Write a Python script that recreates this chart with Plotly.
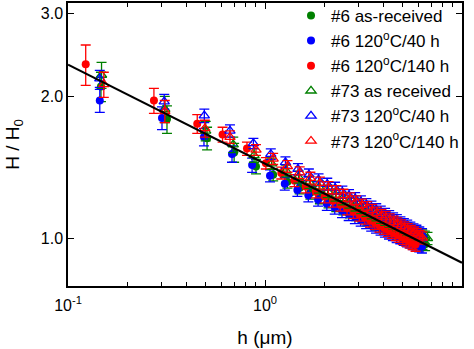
import plotly.graph_objects as go

# Indentation depth h (um), normalised hardness H/H0 and its error, per specimen
h_6_asrec = [0.147, 0.318, 0.508, 0.697, 0.900, 1.10, 1.30, 1.50, 1.70, 1.90, 2.10, 2.30, 2.50, 2.70,
             2.90, 3.10, 3.30, 3.50, 3.70, 3.90, 4.10, 4.30, 4.50, 4.70, 4.90, 5.10, 5.30, 5.50, 5.70,
             5.90, 6.10, 6.30, 6.50]
H_6_asrec = [2.10, 1.79, 1.63, 1.52, 1.42, 1.364, 1.318, 1.281, 1.250, 1.222, 1.198, 1.177, 1.158,
             1.141, 1.126, 1.112, 1.098, 1.086, 1.075, 1.065, 1.055, 1.045, 1.037, 1.029, 1.021,
             1.014, 1.007, 1.001, 0.994, 0.988, 0.983, 0.977, 0.972]
e_6_asrec = [0.15, 0.12, 0.09, 0.07, 0.05, 0.040, 0.040, 0.039, 0.039, 0.038, 0.038, 0.037, 0.037,
             0.036, 0.036, 0.035, 0.035, 0.035, 0.034, 0.034, 0.034, 0.033, 0.033, 0.033, 0.032,
             0.032, 0.032, 0.031, 0.031, 0.031, 0.030, 0.030, 0.030]

h_6_40h = [0.145, 0.300, 0.490, 0.680, 0.860, 1.06, 1.26, 1.46, 1.66, 1.86, 2.06, 2.26, 2.46, 2.66,
           2.86, 3.06, 3.26, 3.46, 3.66, 3.86, 4.06, 4.26, 4.46, 4.66, 4.86, 5.06, 5.26, 5.46, 5.66,
           5.86, 6.06, 6.26]
H_6_40h = [1.96, 1.80, 1.64, 1.51, 1.43, 1.358, 1.306, 1.267, 1.234, 1.208, 1.184, 1.163, 1.144,
           1.127, 1.111, 1.097, 1.084, 1.071, 1.060, 1.050, 1.040, 1.030, 1.022, 1.013, 1.006,
           0.998, 0.991, 0.985, 0.978, 0.972, 0.966, 0.961]
e_6_40h = [0.11, 0.10, 0.07, 0.06, 0.05, 0.040, 0.040, 0.039, 0.039, 0.038, 0.038, 0.037, 0.037,
           0.036, 0.036, 0.035, 0.035, 0.035, 0.034, 0.034, 0.034, 0.033, 0.033, 0.033, 0.032,
           0.032, 0.032, 0.031, 0.031, 0.031, 0.030, 0.030]

h_6_140h = [0.123, 0.273, 0.453, 0.609, 0.810, 1.01, 1.21, 1.41, 1.61, 1.81, 2.01, 2.21, 2.41, 2.61,
            2.81, 3.01, 3.21, 3.41, 3.61, 3.81, 4.01, 4.21, 4.41, 4.61, 4.81, 5.01, 5.21, 5.41,
            5.61, 5.81]
H_6_140h = [2.34, 1.96, 1.75, 1.66, 1.55, 1.443, 1.376, 1.326, 1.288, 1.256, 1.227, 1.202, 1.179,
            1.158, 1.139, 1.123, 1.107, 1.092, 1.079, 1.065, 1.054, 1.042, 1.032, 1.022, 1.013,
            1.003, 0.995, 0.986, 0.978, 0.970]
e_6_140h = [0.23, 0.12, 0.08, 0.06, 0.05, 0.040, 0.040, 0.039, 0.039, 0.038, 0.038, 0.037, 0.037,
            0.036, 0.036, 0.035, 0.035, 0.035, 0.034, 0.034, 0.034, 0.033, 0.033, 0.033, 0.032,
            0.032, 0.032, 0.031, 0.031, 0.031]

h_73_asrec = [0.148, 0.310, 0.500, 0.690, 0.880, 1.08, 1.28, 1.48, 1.68, 1.88, 2.08, 2.28, 2.48,
              2.68, 2.88, 3.08, 3.28, 3.48, 3.68, 3.88, 4.08, 4.28, 4.48, 4.68, 4.88, 5.08, 5.28,
              5.48, 5.68, 5.88, 6.08, 6.28, 6.48, 6.68]
H_73_asrec = [2.22, 1.88, 1.69, 1.58, 1.50, 1.440, 1.390, 1.349, 1.315, 1.285, 1.258, 1.236, 1.215,
              1.195, 1.179, 1.163, 1.148, 1.135, 1.123, 1.110, 1.100, 1.090, 1.079, 1.071, 1.062,
              1.053, 1.046, 1.039, 1.031, 1.025, 1.019, 1.012, 1.006, 1.000]
e_73_asrec = [0.14, 0.12, 0.08, 0.06, 0.05, 0.040, 0.040, 0.039, 0.039, 0.038, 0.038, 0.037, 0.037,
              0.036, 0.036, 0.035, 0.035, 0.035, 0.034, 0.034, 0.034, 0.033, 0.033, 0.033, 0.032,
              0.032, 0.032, 0.031, 0.031, 0.031, 0.030, 0.030, 0.030, 0.030]

h_73_40h = [0.145, 0.308, 0.492, 0.664, 0.873, 1.07, 1.27, 1.47, 1.67, 1.87, 2.07, 2.27, 2.47, 2.67,
            2.87, 3.07, 3.27, 3.47, 3.67, 3.87, 4.07, 4.27, 4.47, 4.67, 4.87, 5.07, 5.27, 5.47,
            5.67, 5.87, 6.07, 6.27]
H_73_40h = [2.18, 1.95, 1.82, 1.69, 1.59, 1.508, 1.449, 1.402, 1.364, 1.332, 1.303, 1.278, 1.254,
            1.233, 1.214, 1.196, 1.179, 1.164, 1.150, 1.136, 1.124, 1.112, 1.100, 1.090, 1.079,
            1.069, 1.061, 1.051, 1.042, 1.035, 1.027, 1.019]
e_73_40h = [0.09, 0.07, 0.06, 0.05, 0.04, 0.040, 0.040, 0.039, 0.039, 0.038, 0.038, 0.037, 0.037,
            0.036, 0.036, 0.035, 0.035, 0.035, 0.034, 0.034, 0.034, 0.033, 0.033, 0.033, 0.032,
            0.032, 0.032, 0.031, 0.031, 0.031, 0.030, 0.030]

h_73_140h = [0.152, 0.310, 0.495, 0.664, 0.900, 1.10, 1.30, 1.50, 1.70, 1.90, 2.10, 2.30, 2.50,
             2.70, 2.90, 3.10, 3.30, 3.50, 3.70, 3.90, 4.10, 4.30, 4.50, 4.70, 4.90, 5.10, 5.30,
             5.50, 5.70, 5.90, 6.10, 6.30]
H_73_140h = [2.12, 1.86, 1.71, 1.64, 1.54, 1.474, 1.421, 1.378, 1.342, 1.310, 1.281, 1.256, 1.234,
             1.213, 1.194, 1.176, 1.161, 1.146, 1.131, 1.118, 1.106, 1.094, 1.082, 1.072, 1.062,
             1.052, 1.043, 1.034, 1.026, 1.018, 1.010, 1.002]
e_73_140h = [0.13, 0.10, 0.07, 0.05, 0.04, 0.040, 0.040, 0.039, 0.039, 0.038, 0.038, 0.037, 0.037,
             0.036, 0.036, 0.035, 0.035, 0.035, 0.034, 0.034, 0.034, 0.033, 0.033, 0.033, 0.032,
             0.032, 0.032, 0.031, 0.031, 0.031, 0.030, 0.030]

# Power-law fit H/H0 = A * h^B
fit_A = 1.44
fit_B = -0.21
fit_h = [0.1, 10.0]

x_tickvals = [0.1, 1, 10]
x_ticktext = ["10<sup>-1</sup>", "10<sup>0</sup>", "10<sup>1</sup>"]
x_minor = [0.2, 0.3, 0.4, 0.5, 0.6, 0.7, 0.8, 0.9, 2, 3, 4, 5, 6, 7, 8, 9]
y_tickvals = [1.0, 2.0, 3.0]
y_ticktext = ["1.0", "2.0", "3.0"]

GREEN = "#008000"
BLUE = "#0000FF"
RED = "#FF0000"
FONT = "Liberation Sans, Arial, sans-serif"

series = [
    ("#6 as-received", h_6_asrec, H_6_asrec, e_6_asrec, GREEN, "circle"),
    ("#6 120<sup>o</sup>C/40 h", h_6_40h, H_6_40h, e_6_40h, BLUE, "circle"),
    ("#6 120<sup>o</sup>C/140 h", h_6_140h, H_6_140h, e_6_140h, RED, "circle"),
    ("#73 as received", h_73_asrec, H_73_asrec, e_73_asrec, GREEN, "triangle-up-open"),
    ("#73 120<sup>o</sup>C/40 h", h_73_40h, H_73_40h, e_73_40h, BLUE, "triangle-up-open"),
    ("#73 120<sup>o</sup>C/140 h", h_73_140h, H_73_140h, e_73_140h, RED, "triangle-up-open"),
]

fig = go.Figure()

for name, hx, hy, he, color, symbol in series:
    is_open = symbol.endswith("open")
    fig.add_trace(go.Scatter(
        x=hx, y=hy, name=name, mode="markers",
        marker=dict(symbol=symbol, color=color, size=9 if is_open else 8,
                    line=dict(color=color, width=1.3 if is_open else 0)),
        error_y=dict(type="data", array=he, visible=True, color=color,
                     thickness=1.3, width=5),
    ))

fig.add_trace(go.Scatter(
    x=fit_h, y=[fit_A * h ** fit_B for h in fit_h], mode="lines",
    line=dict(color="black", width=2.2), showlegend=False,
))

axis_common = dict(
    showline=True, linecolor="black", linewidth=1.5, mirror="ticks",
    ticks="inside", ticklen=6, tickwidth=1.3, tickcolor="black",
    showgrid=False, zeroline=False,
    tickfont=dict(family=FONT, size=16, color="black"),
)

fig.update_xaxes(
    type="log", range=[-1, 1], tickmode="array",
    tickvals=x_tickvals, ticktext=x_ticktext,
    minor=dict(tickmode="array", tickvals=x_minor, ticks="inside", ticklen=4,
               tickwidth=1.2, tickcolor="black", showgrid=False),
    ticklabelstandoff=4,
    title=dict(text="h (\u03bcm)", font=dict(family=FONT, size=19, color="black"), standoff=18),
    **axis_common,
)
fig.update_yaxes(
    type="log", range=[-0.101, 0.499], tickmode="array",
    tickvals=y_tickvals, ticktext=y_ticktext,
    title=dict(text="H / H<sub>0</sub>", font=dict(family=FONT, size=19, color="black"), standoff=16),
    **axis_common,
)

fig.update_layout(
    width=474, height=349,
    margin=dict(l=68, r=12, t=3, b=63, autoexpand=False),
    paper_bgcolor="white", plot_bgcolor="white",
    font=dict(family=FONT, color="black"),
    legend=dict(x=0.566, y=1.018, xanchor="left", yanchor="top",
                bgcolor="rgba(0,0,0,0)", font=dict(family=FONT, size=17, color="black"),
                itemwidth=30, tracegroupgap=0),
)

fig.write_html("out.html")
